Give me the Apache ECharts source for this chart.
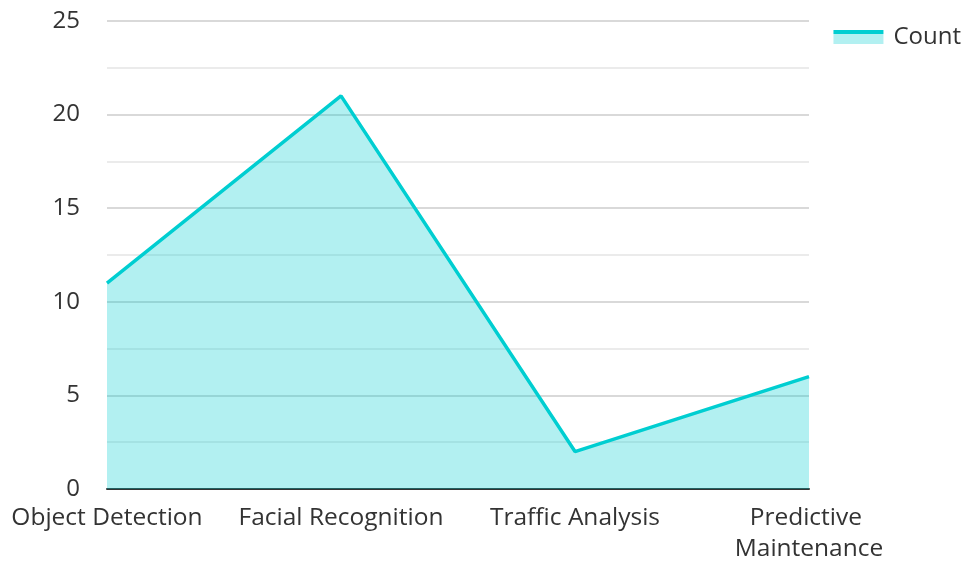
<!DOCTYPE html>
<html><head><meta charset="utf-8">
<script src="https://cdn.jsdelivr.net/npm/echarts@6/dist/echarts.min.js"></script>
<style>html,body{margin:0;padding:0;background:#fff}#c{width:966px;height:561px}</style>
</head><body><div id="c"></div>
<script>
const categories = ['Object Detection', 'Facial Recognition', 'Traffic Analysis', 'Predictive Maintenance'];
const countValues = [11, 21, 2, 6];
const seriesName = 'Count';

const chart = echarts.init(document.getElementById('c'), null, {renderer: 'canvas'});
const FONT = 'Open Sans';
chart.setOption({
  animation: false,
  textStyle: {fontFamily: FONT},
  grid: {left: 107, right: 157, top: 21, bottom: 72, containLabel: false, outerBoundsMode: 'none'},
  legend: {
    right: 0, top: 20,
    itemWidth: 50, itemHeight: 14, itemGap: 14,
    icon: 'rect',
    textStyle: {fontSize: 24, color: '#333', fontFamily: FONT, padding: [0, 0, 0, 5]},
    data: [{
      name: seriesName,
      itemStyle: {
        color: {type: 'linear', x: 0, y: 0, x2: 0, y2: 1, colorStops: [
          {offset: 0, color: '#00CED1'}, {offset: 0.28, color: '#00CED1'},
          {offset: 0.28, color: '#B2F0F1'}, {offset: 1, color: '#B2F0F1'}]}
      }
    }]
  },
  xAxis: {
    type: 'category', data: categories, boundaryGap: false,
    axisLine: {lineStyle: {color: '#333', width: 2}},
    axisTick: {show: false},
    axisLabel: {fontSize: 24.5, color: '#333', margin: 14, width: 230, overflow: 'break', lineHeight: 31, fontFamily: FONT, interval: 0, verticalAlign: 'top'}
  },
  yAxis: {
    type: 'value', min: 0, max: 25, interval: 5,
    axisLine: {show: false}, axisTick: {show: false},
    axisLabel: {fontSize: 24, color: '#333', margin: 27, fontFamily: FONT},
    splitLine: {lineStyle: {color: '#ccc', width: 1.5}},
    minorTick: {show: false, splitNumber: 2},
    minorSplitLine: {show: true, lineStyle: {color: '#e5e5e5', width: 1.5}}
  },
  series: [{
    name: seriesName, type: 'line', data: countValues,
    showSymbol: false, symbol: 'none',
    lineStyle: {color: '#00CED1', width: 3.5},
    itemStyle: {color: '#00CED1'},
    areaStyle: {color: '#00CED1', opacity: 0.3}
  }]
});
</script></body></html>
